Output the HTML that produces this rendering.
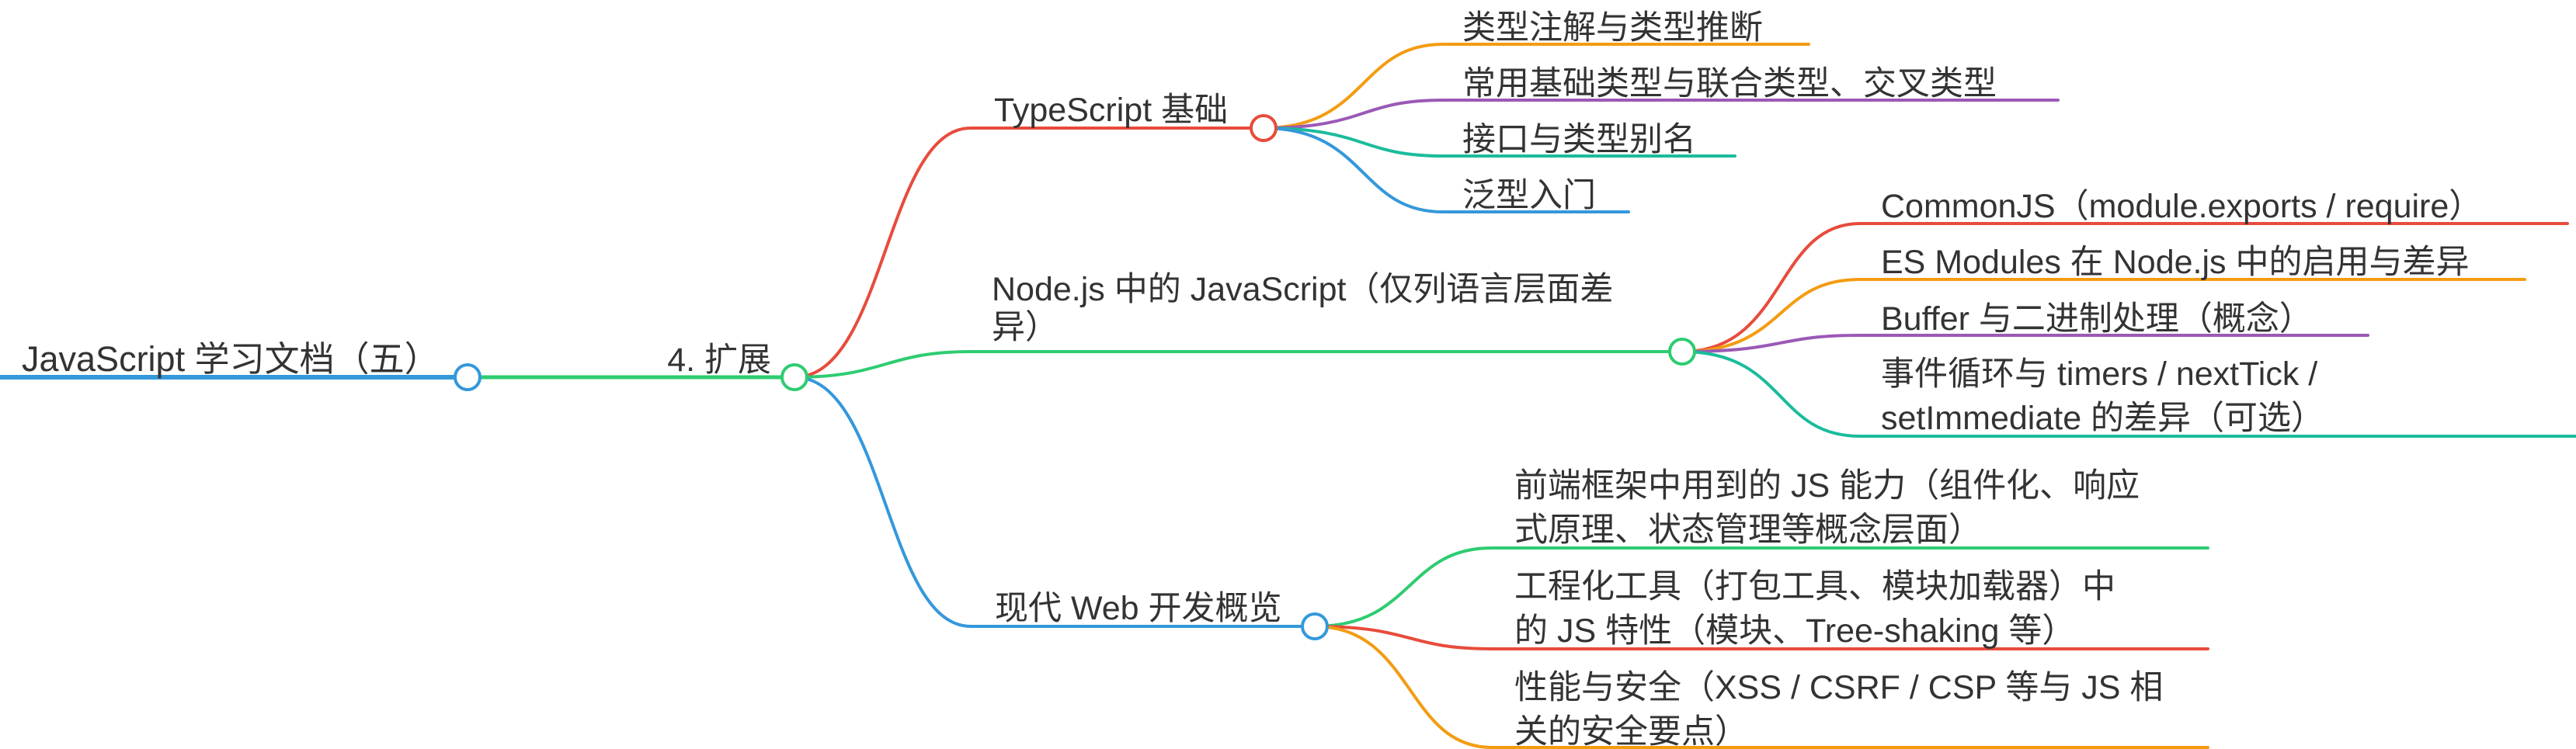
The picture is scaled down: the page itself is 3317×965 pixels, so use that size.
<!DOCTYPE html>
<html><head><meta charset="utf-8"><style>
html,body{margin:0;padding:0;background:#fff;}
svg{display:block;}
text{font-family:"Liberation Sans","Noto Sans CJK SC",sans-serif;font-size:43px;fill:#333;}
</style></head><body>
<svg width="3317" height="965" viewBox="0 0 3317 965" xmlns="http://www.w3.org/2000/svg">
<g fill="none" stroke-linecap="round">
<!-- root -->
<path d="M0,486 L602,486" stroke="#3498db" stroke-width="6"/>
<path d="M602,486 L1023,486" stroke="#2ecc71" stroke-width="5"/>
<!-- level 2 from 4.扩展 -->
<path d="M1023,486 C1140,486 1140,165 1250,165 L1627,165" stroke="#e74c3c" stroke-width="4"/>
<path d="M1023,486 C1140,486 1140,453 1250,453 L2166,453" stroke="#2ecc71" stroke-width="4"/>
<path d="M1023,486 C1140,486 1140,807 1250,807 L1693,807" stroke="#3498db" stroke-width="4"/>
<!-- TS children -->
<path d="M1627,165 C1760,165 1750,57 1858,57 L2329,57" stroke="#f39c12" stroke-width="4"/>
<path d="M1627,165 C1760,165 1750,129 1858,129 L2650,129" stroke="#9b59b6" stroke-width="4"/>
<path d="M1627,165 C1760,165 1750,201 1858,201 L2234,201" stroke="#1abc9c" stroke-width="4"/>
<path d="M1627,165 C1760,165 1750,273 1858,273 L2097,273" stroke="#3498db" stroke-width="4"/>
<!-- Node children -->
<path d="M2166,453 C2300,453 2285,288 2395,288 L3306,288" stroke="#e74c3c" stroke-width="4"/>
<path d="M2166,453 C2300,453 2285,360 2395,360 L3251,360" stroke="#f39c12" stroke-width="4"/>
<path d="M2166,453 C2300,453 2285,432 2395,432 L3049,432" stroke="#9b59b6" stroke-width="4"/>
<path d="M2166,453 C2300,453 2285,562 2395,562 L3317,562" stroke="#1abc9c" stroke-width="4"/>
<!-- Web children -->
<path d="M1693,807 C1820,807 1810,706 1921,706 L2843,706" stroke="#2ecc71" stroke-width="4"/>
<path d="M1693,807 C1820,807 1810,836 1921,836 L2843,836" stroke="#e74c3c" stroke-width="4"/>
<path d="M1693,807 C1820,807 1810,963 1921,963 L2843,963" stroke="#f39c12" stroke-width="4"/>
</g>
<!-- circles -->
<g fill="#fff" stroke-width="4">
<circle cx="602" cy="486" r="16" stroke="#3498db"/>
<circle cx="1023" cy="486" r="16" stroke="#2ecc71"/>
<circle cx="1627" cy="165" r="16" stroke="#e74c3c"/>
<circle cx="2166" cy="453" r="16" stroke="#2ecc71"/>
<circle cx="1693" cy="807" r="16" stroke="#3498db"/>
</g>
<!-- labels -->
<text x="28" y="478" style="font-size:45px">JavaScript 学习文档（五）</text>
<text x="993" y="478" text-anchor="end">4. 扩展</text>
<text x="1280" y="156">TypeScript 基础</text>
<text x="1277" y="387">Node.js 中的 JavaScript（仅列语言层面差</text>
<text x="1277" y="436">异）</text>
<text x="1281" y="798">现代 Web 开发概览</text>

<text x="1883" y="50">类型注解与类型推断</text>
<text x="1883" y="122">常用基础类型与联合类型、交叉类型</text>
<text x="1883" y="194">接口与类型别名</text>
<text x="1883" y="266">泛型入门</text>

<text x="2422" y="280">CommonJS（module.exports / require）</text>
<text x="2422" y="352">ES Modules 在 Node.js 中的启用与差异</text>
<text x="2422" y="425">Buffer 与二进制处理（概念）</text>
<text x="2422" y="496">事件循环与 timers / nextTick /</text>
<text x="2422" y="553">setImmediate 的差异（可选）</text>

<text x="1950" y="640">前端框架中用到的 JS 能力（组件化、响应</text>
<text x="1950" y="697">式原理、状态管理等概念层面）</text>
<text x="1950" y="770">工程化工具（打包工具、模块加载器）中</text>
<text x="1950" y="827">的 JS 特性（模块、Tree-shaking 等）</text>
<text x="1950" y="900">性能与安全（XSS / CSRF / CSP 等与 JS 相</text>
<text x="1950" y="957">关的安全要点）</text>
</svg>
</body></html>
